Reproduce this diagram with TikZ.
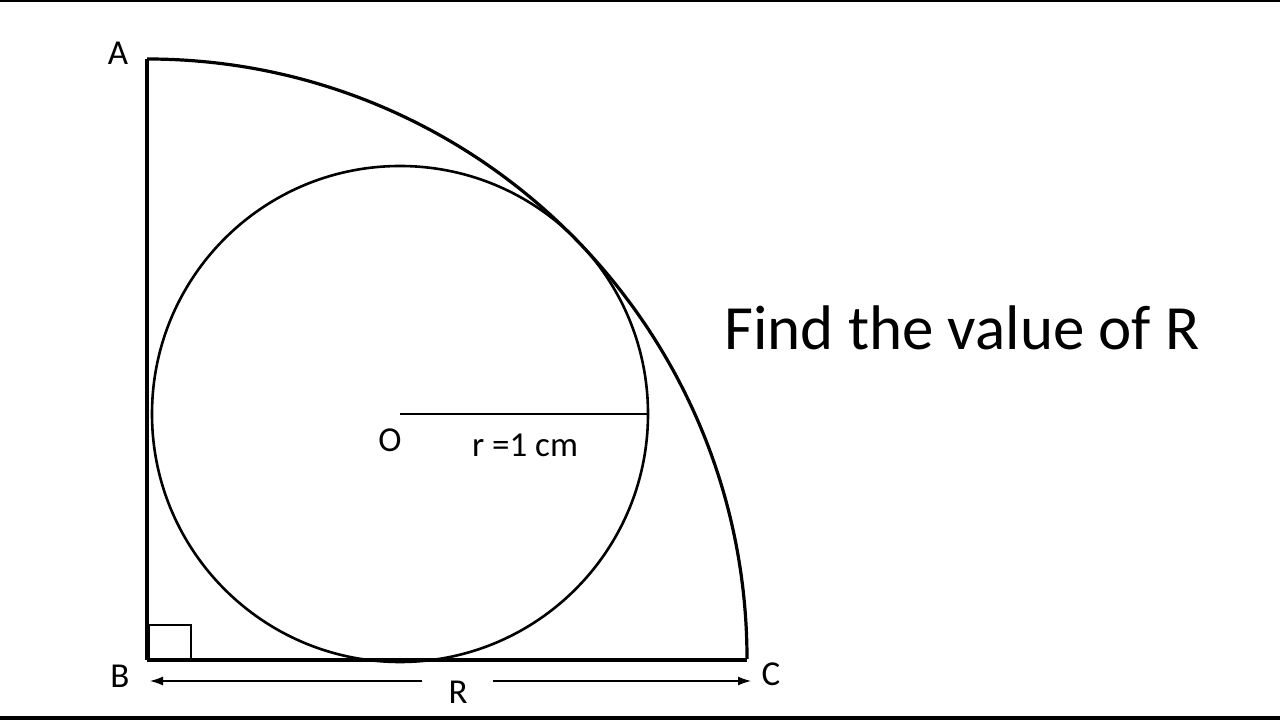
\documentclass[tikz,border=0pt]{standalone}
\usepackage{fontspec}
\setmainfont{Carlito}
\usetikzlibrary{calc,positioning,arrows.meta}
\tikzset{
	bigline/.style={line width=3.2pt},
	thinline/.style={line width=2.6pt},
	dimline/.style={line width=1.3pt,-{Latex[length=13pt,width=9pt]}},
	ptlabel/.style={font=\fontsize{35}{38}\selectfont,inner sep=0pt}
}
\begin{document}
\begin{tikzpicture}[x=1pt,y=1pt]
	\useasboundingbox (0,0) rectangle (1280,720);
	\fill[white] (0,0) rectangle (1280,720);
	% frame lines
	\fill[black] (0,717.5) rectangle (1280,720);
	\fill[black] (0,0) rectangle (1280,3.5);
	% quadrant
	\coordinate (B) at (147,60);
	\coordinate (A) at (147,661);
	\coordinate (C) at (747,60);
	\coordinate (O) at (400,306);
	\pgfmathsetmacro{\rad}{248}
	\draw[line width=3.5pt] (A) -- (B);
	\draw[line width=4.5pt] (B) -- (C);
	\draw[bigline] (A) arc[start angle=90, end angle=0, radius=600];
	\draw[thinline] (O) circle[radius=\rad];
	\draw[thinline] (O) -- ++(\rad,0) coordinate (P);
	% right angle
	\draw[line width=1.2pt] ($(B)+(2,0)$) rectangle ++(42,35);
	% labels
	\node[ptlabel] (Alab) at (118,667) {A};
	\node[ptlabel] (Blab) at (120,44) {B};
	\node[ptlabel] (Clab) at (771,46) {C};
	\node[ptlabel] (Olab) at (390,280) {O};
	\node[ptlabel] (rlab) at (525,275) {r =1 cm};
	\node[ptlabel] (Rlab) at (458,28) {R};
	\coordinate (Bend) at (150,39);
	\coordinate (Cend) at (751,39);
	\draw[dimline] (Rlab.west |- Bend) ++(-26,0) -- (Bend);
	\draw[dimline] (Rlab.east |- Cend) ++(25,0) -- (Cend);
	\node[font=\fontsize{63}{70}\selectfont,inner sep=0pt] (title) at (962,392) {Find the value of R};
\end{tikzpicture}
\end{document}
